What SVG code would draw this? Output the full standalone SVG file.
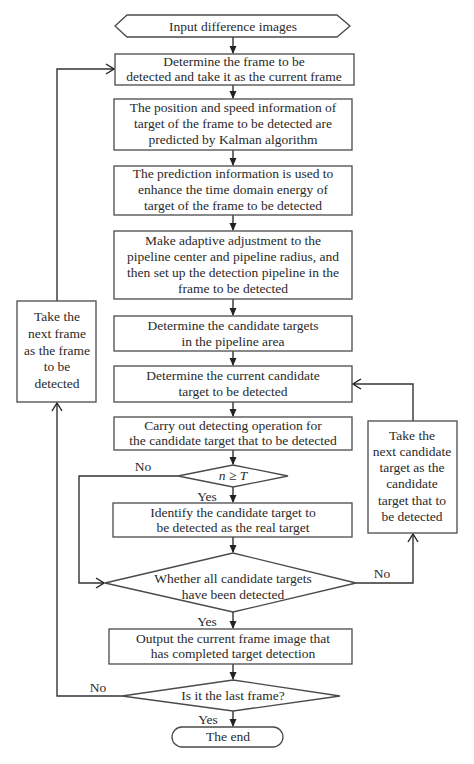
<svg xmlns="http://www.w3.org/2000/svg" width="474" height="764" viewBox="0 0 474 764">
<style>
.n{fill:#fff;stroke:#4a4a4a;stroke-width:1.3}
.t{font-family:"Liberation Serif","DejaVu Serif",serif;font-size:13.5px;fill:#2a2a2a;text-anchor:middle}
.c{fill:none;stroke:#333;stroke-width:1.4}
</style>
<defs>
<marker id="fa" markerWidth="8" markerHeight="8" refX="7" refY="4" orient="auto" markerUnits="userSpaceOnUse"><path d="M0,0.5 L8,4 L0,7.5 Z" fill="#222"/></marker>
<marker id="oa" markerWidth="10" markerHeight="12" refX="9" refY="6" orient="auto" markerUnits="userSpaceOnUse"><path d="M1,1 L9,6 L1,11" fill="none" stroke="#222" stroke-width="1.4"/></marker>
</defs>
<rect width="474" height="764" fill="#fff"/>
<g id="connectors">
<line class="c" x1="233" y1="37" x2="233" y2="53" marker-end="url(#fa)"/>
<line class="c" x1="233" y1="85" x2="233" y2="98" marker-end="url(#fa)"/>
<line class="c" x1="233" y1="150" x2="233" y2="165" marker-end="url(#fa)"/>
<line class="c" x1="233" y1="215" x2="233" y2="230" marker-end="url(#fa)"/>
<line class="c" x1="233" y1="299" x2="233" y2="315" marker-end="url(#fa)"/>
<line class="c" x1="233" y1="351" x2="233" y2="365" marker-end="url(#fa)"/>
<line class="c" x1="233" y1="402" x2="233" y2="416" marker-end="url(#fa)"/>
<line class="c" x1="233" y1="450" x2="233" y2="464" marker-end="url(#fa)"/>
<line class="c" x1="233" y1="487" x2="233" y2="502" marker-end="url(#fa)"/>
<line class="c" x1="233" y1="537" x2="233" y2="552" marker-end="url(#fa)"/>
<line class="c" x1="233" y1="612" x2="233" y2="628" marker-end="url(#fa)"/>
<line class="c" x1="233" y1="664" x2="233" y2="679" marker-end="url(#fa)"/>
<line class="c" x1="233" y1="711" x2="233" y2="726" marker-end="url(#fa)"/>
<polyline class="c" points="178,476 79,476 79,583 104,583" marker-end="url(#oa)"/>
<polyline class="c" points="356,583 413,583 413,534" marker-end="url(#oa)"/>
<polyline class="c" points="413,421 413,384 353,384" marker-end="url(#oa)"/>
<polyline class="c" points="122,696 57,696 57,403" marker-end="url(#oa)"/>
<polyline class="c" points="57,301 57,69 114,69" marker-end="url(#oa)"/>
<text class="t" x="143" y="471">No</text>
<text class="t" x="207" y="501">Yes</text>
<text class="t" x="382" y="578">No</text>
<text class="t" x="207" y="626">Yes</text>
<text class="t" x="98" y="692">No</text>
<text class="t" x="208" y="724">Yes</text>
</g>
<g id="start">
<polygon class="n" points="115,26 127,15 337,15 350,26 337,37 127,37"/>
<text class="t" x="233" y="31">Input difference images</text>
</g>
<g id="b1">
<rect class="n" x="115" y="54" width="239" height="31"/>
<text class="t" x="234" y="66">Determine the frame to be</text>
<text class="t" x="234" y="81">detected and take it as the current frame</text>
</g>
<g id="b2">
<rect class="n" x="114" y="99" width="238" height="51"/>
<text class="t" x="233" y="112">The position and speed information of</text>
<text class="t" x="233" y="128">target of the frame to be detected are</text>
<text class="t" x="233" y="144">predicted by Kalman algorithm</text>
</g>
<g id="b3">
<rect class="n" x="114" y="166" width="238" height="49"/>
<text class="t" x="233" y="178">The prediction information is used to</text>
<text class="t" x="233" y="194">enhance the time domain energy of</text>
<text class="t" x="233" y="210">target of the frame to be detected</text>
</g>
<g id="b4">
<rect class="n" x="114" y="231" width="238" height="68"/>
<text class="t" x="233" y="245">Make adaptive adjustment to the</text>
<text class="t" x="233" y="261">pipeline center and pipeline radius, and</text>
<text class="t" x="233" y="277">then set up the detection pipeline in the</text>
<text class="t" x="233" y="293">frame to be detected</text>
</g>
<g id="b5">
<rect class="n" x="114" y="316" width="238" height="35"/>
<text class="t" x="233" y="330">Determine the candidate targets</text>
<text class="t" x="233" y="346">in the pipeline area</text>
</g>
<g id="b6">
<rect class="n" x="114" y="366" width="238" height="36"/>
<text class="t" x="233" y="380">Determine the current candidate</text>
<text class="t" x="233" y="396">target to be detected</text>
</g>
<g id="b7">
<rect class="n" x="114" y="417" width="238" height="33"/>
<text class="t" x="233" y="430">Carry out detecting operation for</text>
<text class="t" x="233" y="445">the candidate target that to be detected</text>
</g>
<g id="d1">
<polygon class="n" points="178,476 233,465 288,476 233,487"/>
<text class="t" x="233" y="480" font-style="italic">n ≥ T</text>
</g>
<g id="b8">
<rect class="n" x="113" y="503" width="239" height="34"/>
<text class="t" x="233" y="517">Identify the candidate target to</text>
<text class="t" x="233" y="532">be detected as the real target</text>
</g>
<g id="d2">
<polygon class="n" points="105,583 233,553 356,583 233,612"/>
<text class="t" x="233" y="583">Whether all candidate targets</text>
<text class="t" x="233" y="599">have been detected</text>
</g>
<g id="b9">
<rect class="n" x="109" y="629" width="243" height="35"/>
<text class="t" x="233" y="643">Output the current frame image that</text>
<text class="t" x="233" y="658">has completed target detection</text>
</g>
<g id="d3">
<polygon class="n" points="122,696 233,680 340,696 233,711"/>
<text class="t" x="233" y="700">Is it the last frame?</text>
</g>
<g id="end">
<rect class="n" x="172" y="727" width="111" height="20" rx="10" ry="10"/>
<text class="t" x="228" y="741">The end</text>
</g>
<g id="left">
<rect class="n" x="17" y="301" width="79" height="101"/>
<text class="t" x="57" y="321">Take the</text>
<text class="t" x="57" y="338">next frame</text>
<text class="t" x="57" y="355">as the frame</text>
<text class="t" x="57" y="371">to be</text>
<text class="t" x="57" y="388">detected</text>
</g>
<g id="right">
<rect class="n" x="368" y="421" width="89" height="112"/>
<text class="t" x="412" y="440">Take the</text>
<text class="t" x="412" y="456">next candidate</text>
<text class="t" x="412" y="472">target as the</text>
<text class="t" x="412" y="488">candidate</text>
<text class="t" x="412" y="505">target that to</text>
<text class="t" x="412" y="521">be detected</text>
</g>
</svg>
